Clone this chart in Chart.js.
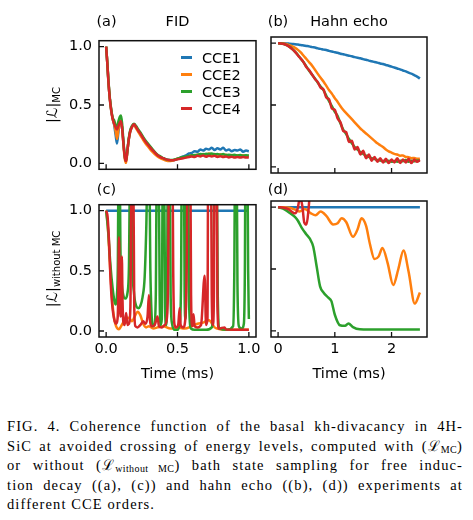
<!DOCTYPE html>
<html lang="en">
<head>
<meta charset="UTF-8">
<title>Coherence function, FID and Hahn echo</title>
<script src="https://cdn.jsdelivr.net/npm/chart.js"></script>
<style>
    * { box-sizing: border-box; margin: 0; padding: 0; }
    body {
        width: 473px;
        height: 520px;
        background: #fff;
        position: relative;
        overflow: hidden;
        font-family: "DejaVu Sans", sans-serif;
        color: #000;
    }
    canvas { position: absolute; }
    .lbl {
        position: absolute;
        font-size: 14.5px;
        line-height: 1;
        white-space: nowrap;
        transform: translate(-50%, -50%);
    }
    .ylbl { transform: translate(-50%, -50%) rotate(-90deg); }
    .ylbl sub { font-size: 10px; vertical-align: -3px; line-height: 0; }
    .key { position: absolute; height: 2.6px; width: 11px; }
    .keytext {
        position: absolute;
        font-size: 14.5px;
        line-height: 1;
        transform: translateY(-50%);
    }
    .caption {
        position: absolute;
        left: 7px;
        top: 417px;
        width: 456px;
        font-family: "Liberation Serif", "DejaVu Serif", serif;
        font-size: 14.5px;
        letter-spacing: 1.1px;
        line-height: 19.5px;
    }
    .caption div { text-align: justify; text-align-last: justify; }
    .caption div.last { text-align-last: left; }
    .caption sub { font-size: 10px; line-height: 0; vertical-align: -2px; letter-spacing: 0.4px; }
</style>
</head>
<body>
    <canvas id="fidMc" width="221" height="160" style="left:47px;top:25px"></canvas>
    <canvas id="hahnMc" width="180" height="160" style="left:259px;top:25px"></canvas>
    <canvas id="fidRaw" width="221" height="186" style="left:47px;top:189px"></canvas>
    <canvas id="hahnRaw" width="180" height="186" style="left:259px;top:189px"></canvas>

    <div class="lbl" style="left:106.5px;top:21px">(a)</div>
    <div class="lbl" style="left:177.5px;top:21px">FID</div>
    <div class="lbl" style="left:278px;top:21px">(b)</div>
    <div class="lbl" style="left:349px;top:21px">Hahn echo</div>
    <div class="lbl" style="left:106.5px;top:189px">(c)</div>
    <div class="lbl" style="left:278px;top:189px">(d)</div>
    <div class="lbl ylbl" style="left:52px;top:105px">|ℒ|<sub>MC</sub></div>
    <div class="lbl ylbl" style="left:52px;top:269px">|ℒ|<sub>without MC</sub></div>
    <div class="lbl" style="left:177.5px;top:372.5px">Time (ms)</div>
    <div class="lbl" style="left:349px;top:372.5px">Time (ms)</div>

    <div id="legend"></div>

    <div class="caption">
        <div>FIG. 4. Coherence function of the basal kh-divacancy in 4H-</div>
        <div>SiC at avoided crossing of energy levels, computed with (ℒ<sub>MC</sub>)</div>
        <div>or without (ℒ<sub>without MC</sub>) bath state sampling for free induc-</div>
        <div>tion decay ((a), (c)) and hahn echo ((b), (d)) experiments at</div>
        <div class="last">different CCE orders.</div>
    </div>

<script>
// series names and colours
const seriesNames = ['CCE1', 'CCE2', 'CCE3', 'CCE4'];
const colors = ['#1f77b4', '#ff7f0e', '#2ca02c', '#d62728'];

// ticks
const fidTicks = [0, 0.5, 1.0];
const fidTickLabels = ['0.0', '0.5', '1.0'];
const hahnTicks = [0, 1, 2];
const hahnTickLabels = ['0', '1', '2'];
const yTicks = [0, 0.5, 1.0];
const yTickLabels = ['0.0', '0.5', '1.0'];

// (a) FID with bath state sampling
const fidTime = [0, 0.008, 0.016, 0.026, 0.036, 0.046, 0.056, 0.066, 0.076, 0.086,
    0.096, 0.104, 0.112, 0.12, 0.128, 0.134, 0.14, 0.148, 0.158, 0.168,
    0.18, 0.195, 0.21, 0.225, 0.24, 0.26, 0.28, 0.30, 0.32, 0.34,
    0.36, 0.38, 0.40,
    0.42, 0.44, 0.46, 0.48, 0.50, 0.52, 0.54, 0.56, 0.58, 0.60,
    0.62, 0.64, 0.66, 0.68, 0.70, 0.72, 0.74, 0.76, 0.78, 0.80,
    0.82, 0.84, 0.86, 0.88, 0.90, 0.92, 0.94, 0.96, 0.98, 1.0];
const fidMcCce1 = [1.0, 0.86, 0.70, 0.55, 0.45, 0.38, 0.33, 0.25, 0.17, 0.27,
    0.35, 0.36, 0.30, 0.19, 0.09, 0.04, 0.03, 0.10, 0.20, 0.27,
    0.31, 0.335, 0.31, 0.28, 0.25, 0.21, 0.175, 0.145, 0.115, 0.09,
    0.07, 0.055, 0.045,
    0.035, 0.03, 0.028, 0.03, 0.04, 0.05, 0.06, 0.07, 0.085, 0.09,
    0.105, 0.10, 0.12, 0.11, 0.125, 0.12, 0.135, 0.115, 0.13, 0.12,
    0.135, 0.11, 0.12, 0.105, 0.115, 0.11, 0.12, 0.10, 0.11, 0.105];
const fidMcCce2 = [1.0, 0.86, 0.70, 0.55, 0.45, 0.38, 0.34, 0.28, 0.21, 0.29,
    0.36, 0.37, 0.30, 0.18, 0.07, 0.02, 0.005, 0.09, 0.20, 0.27,
    0.31, 0.33, 0.30, 0.27, 0.24, 0.20, 0.165, 0.135, 0.105, 0.08,
    0.06, 0.045, 0.035,
    0.025, 0.02, 0.022, 0.03, 0.04, 0.045, 0.05, 0.055, 0.06, 0.07,
    0.065, 0.075, 0.07, 0.08, 0.075, 0.085, 0.075, 0.08, 0.07, 0.078,
    0.07, 0.075, 0.068, 0.072, 0.065, 0.07, 0.065, 0.07, 0.062, 0.065];
const fidMcCce3 = [1.0, 0.87, 0.71, 0.56, 0.46, 0.39, 0.37, 0.33, 0.31, 0.36,
    0.40, 0.41, 0.34, 0.21, 0.09, 0.035, 0.025, 0.10, 0.21, 0.28,
    0.32, 0.34, 0.32, 0.29, 0.265, 0.225, 0.19, 0.16, 0.13, 0.10,
    0.075, 0.06, 0.045,
    0.035, 0.03, 0.03, 0.035, 0.04, 0.05, 0.055, 0.06, 0.065, 0.07,
    0.072, 0.075, 0.08, 0.078, 0.082, 0.08, 0.085, 0.078, 0.08, 0.075,
    0.08, 0.072, 0.075, 0.07, 0.074, 0.068, 0.072, 0.066, 0.07, 0.068];
const fidMcCce4 = [1.0, 0.86, 0.70, 0.55, 0.45, 0.38, 0.34, 0.31, 0.29, 0.32,
    0.35, 0.36, 0.30, 0.19, 0.08, 0.03, 0.02, 0.10, 0.20, 0.27,
    0.31, 0.335, 0.31, 0.28, 0.255, 0.215, 0.18, 0.15, 0.12, 0.095,
    0.07, 0.055, 0.045,
    0.035, 0.03, 0.028, 0.03, 0.035, 0.04, 0.045, 0.05, 0.055, 0.06,
    0.055, 0.065, 0.06, 0.068, 0.058, 0.065, 0.06, 0.066, 0.056, 0.062,
    0.055, 0.06, 0.052, 0.058, 0.05, 0.056, 0.05, 0.055, 0.05, 0.052];

// (b) Hahn echo with bath state sampling
const hahnTime = [0, 0.05, 0.1, 0.15, 0.2, 0.25, 0.3, 0.35, 0.4, 0.45,
    0.5, 0.55, 0.6, 0.65, 0.7, 0.75, 0.8, 0.85, 0.9, 0.95,
    1.0, 1.05, 1.1, 1.15, 1.2, 1.25, 1.3, 1.35, 1.4, 1.45,
    1.5, 1.55, 1.6, 1.65, 1.7, 1.75, 1.8, 1.85, 1.9, 1.95,
    2.0, 2.05, 2.1, 2.15, 2.2, 2.25, 2.3, 2.35, 2.4, 2.45,
    2.5];
const hahnMcCce1 = [1.000, 1.000, 0.999, 0.998, 0.996, 0.994, 0.992, 0.989, 0.986, 0.982,
    0.978, 0.974, 0.968, 0.965, 0.958, 0.954, 0.948, 0.945, 0.938, 0.933,
    0.927, 0.922, 0.915, 0.911, 0.904, 0.899, 0.894, 0.887, 0.882, 0.878,
    0.871, 0.866, 0.859, 0.854, 0.848, 0.843, 0.836, 0.831, 0.824, 0.818,
    0.810, 0.803, 0.795, 0.788, 0.779, 0.772, 0.762, 0.753, 0.741, 0.729,
    0.714];
const hahnMcCce2 = [1.0, 1.0, 0.998, 0.992, 0.984, 0.974, 0.962, 0.946, 0.925, 0.898,
    0.872, 0.845, 0.818, 0.785, 0.752, 0.72, 0.69, 0.655, 0.62, 0.59,
    0.555, 0.525, 0.49, 0.46, 0.435, 0.41, 0.385, 0.36, 0.335, 0.31,
    0.29, 0.27, 0.25, 0.23, 0.21, 0.19, 0.175, 0.16, 0.14, 0.125,
    0.115, 0.105, 0.10, 0.09, 0.092, 0.08, 0.078, 0.07, 0.072, 0.065,
    0.066];
const hahnMcCce3 = [1.0, 0.998, 0.994, 0.985, 0.972, 0.953, 0.93, 0.905, 0.875, 0.845,
    0.81, 0.775, 0.745, 0.715, 0.68, 0.65, 0.62, 0.575, 0.53, 0.49,
    0.445, 0.41, 0.35, 0.30, 0.265, 0.225, 0.19, 0.16, 0.14, 0.12,
    0.105, 0.09, 0.08, 0.07, 0.062, 0.055, 0.05, 0.047, 0.045, 0.05,
    0.04, 0.048, 0.042, 0.05, 0.045, 0.055, 0.04, 0.05, 0.045, 0.052,
    0.048];
const hahnMcCce4 = [1.0, 0.998, 0.993, 0.984, 0.97, 0.952, 0.93, 0.9, 0.875, 0.845,
    0.805, 0.78, 0.745, 0.71, 0.685, 0.64, 0.625, 0.56, 0.545, 0.47,
    0.46, 0.39, 0.36, 0.29, 0.28, 0.2, 0.21, 0.14, 0.16, 0.1,
    0.13, 0.07, 0.1, 0.05, 0.08, 0.04, 0.07, 0.035, 0.065, 0.03,
    0.06, 0.035, 0.07, 0.03, 0.06, 0.035, 0.065, 0.03, 0.06, 0.04,
    0.055];

// (c) FID without bath state sampling
const fidRawTimeCce1 = [0, 1.0];
const fidRawCce1 = [1.0, 1.0];
const fidRawTimeCce2 = [0, 0.01, 0.02, 0.03, 0.04, 0.05, 0.06, 0.07, 0.08, 0.09,
    0.10, 0.12, 0.14, 0.16, 0.18, 0.20, 0.22, 0.24, 0.26, 0.28,
    0.30, 0.33, 0.36, 0.40, 0.45, 0.50, 0.55, 0.60, 0.64, 0.68,
    0.72, 0.76, 0.80, 0.85, 0.90, 0.95, 1.0];
const fidRawCce2 = [1.0, 0.9, 0.7, 0.48, 0.3, 0.16, 0.08, 0.04, 0.02, 0.015,
    0.03, 0.07, 0.1, 0.11, 0.08, 0.12, 0.16, 0.13, 0.06, 0.03,
    0.04, 0.02, 0.03, 0.04, 0.02, 0.03, 0.02, 0.04, 0.06, 0.07,
    0.09, 0.03, 0.015, 0.01, 0.01, 0.01, 0.01];
const fidRawTimeCce3 = [0, 0.015, 0.03, 0.045, 0.058, 0.068, 0.076, 0.082, 0.087, 0.095,
    0.10, 0.108, 0.12, 0.135, 0.15, 0.16, 0.168, 0.178, 0.184, 0.195,
    0.21, 0.225, 0.24, 0.255, 0.27, 0.282, 0.29, 0.302, 0.31, 0.318,
    0.328, 0.338, 0.348, 0.355, 0.368, 0.375, 0.382, 0.39, 0.397, 0.406,
    0.413, 0.42, 0.427, 0.432, 0.446, 0.452, 0.462, 0.48, 0.5, 0.515,
    0.525, 0.53, 0.545, 0.55, 0.556, 0.56, 0.565, 0.575, 0.582, 0.595,
    0.62, 0.7, 0.74, 0.752, 0.758, 0.775, 0.782, 0.795, 0.85, 0.89,
    0.898, 0.903, 0.915, 0.92, 0.93, 0.95, 0.965, 0.972, 0.976, 0.99,
    0.995, 1.0];
const fidRawCce3 = [1.0, 0.82, 0.55, 0.36, 0.25, 0.22, 0.30, 0.55, 1.4, 1.4,
    0.7, 0.42, 0.30, 0.27, 0.32, 0.55, 1.4, 1.4, 0.6, 0.32,
    0.21, 0.19, 0.21, 0.28, 0.45, 0.9, 1.4, 1.4, 0.5, 0.15,
    0.04, 0.05, 0.3, 1.4, 1.4, 0.3, 0.05, 0.1, 1.4, 1.4,
    0.2, 0.05, 0.3, 1.4, 1.4, 0.3, 0.06, 0.01, 0.01, 0.06,
    0.4, 1.4, 1.4, 0.3, 0.1, 0.3, 1.4, 1.4, 0.2, 0.02,
    0.01, 0.01, 0.03, 0.4, 1.4, 1.4, 0.3, 0.02, 0.01, 0.04,
    0.5, 1.4, 1.4, 0.4, 0.04, 0.02, 0.06, 0.5, 1.4, 1.4,
    0.5, 0.1];
const fidRawTimeCce4 = [0, 0.01, 0.02, 0.03, 0.04, 0.05, 0.06, 0.07, 0.08, 0.086,
    0.09, 0.095, 0.10, 0.106, 0.11, 0.115, 0.12, 0.13, 0.14, 0.15,
    0.16, 0.17, 0.178, 0.19, 0.197, 0.205, 0.22, 0.24, 0.26, 0.275,
    0.29, 0.30, 0.308, 0.32, 0.34, 0.36, 0.37, 0.39, 0.41, 0.425,
    0.435, 0.44, 0.465, 0.47, 0.478, 0.49, 0.505, 0.515, 0.522, 0.54,
    0.555, 0.565, 0.57, 0.59, 0.595, 0.603, 0.612, 0.62, 0.64, 0.665,
    0.69, 0.70, 0.71, 0.715, 0.735, 0.74, 0.748, 0.755, 0.76, 0.775,
    0.78, 0.79, 0.83, 0.84, 1.0];
const fidRawCce4 = [1.0, 0.95, 0.75, 0.45, 0.25, 0.14, 0.08, 0.06, 0.1, 0.35,
    0.78, 0.35, 0.12, 0.2, 0.62, 0.25, 0.08, 0.05, 0.15, 0.05,
    0.06, 0.2, 1.4, 1.4, 0.2, 0.04, 0.03, 0.05, 0.08, 0.06,
    0.12, 0.30, 0.08, 0.04, 0.05, 0.12, 0.04, 0.03, 0.05, 0.1,
    0.5, 1.4, 1.4, 0.5, 0.06, 0.03, 0.05, 0.19, 0.05, 0.03,
    0.1, 0.6, 1.4, 1.4, 0.3, 0.04, 0.14, 0.04, 0.03, 0.05,
    0.46, 0.05, 0.1, 1.4, 1.4, 0.3, 0.05, 0.3, 1.4, 1.4,
    0.2, 0.02, 0.03, 0.012, 0.01];

// (d) Hahn echo without bath state sampling
const hahnRawTimeCce1 = [0, 2.5];
const hahnRawCce1 = [1.0, 1.0];
const hahnRawTimeCce2 = [0, 0.1, 0.2, 0.3, 0.38, 0.47, 0.58, 0.66, 0.75, 0.85,
    0.97, 1.05, 1.12, 1.2, 1.32, 1.4, 1.47, 1.55, 1.62, 1.7,
    1.77, 1.84, 1.93, 2.03, 2.12, 2.21, 2.3, 2.41, 2.5];
const hahnRawCce2 = [1.0, 1.0, 0.995, 0.98, 0.965, 0.985, 0.95, 0.935, 0.965, 0.93,
    0.86, 0.87, 0.91, 0.88, 0.76, 0.82, 0.91, 0.85, 0.70, 0.58,
    0.60, 0.67, 0.55, 0.37, 0.50, 0.65, 0.48, 0.22, 0.31];
const hahnRawTimeCce3 = [0, 0.12, 0.23, 0.3, 0.35, 0.42, 0.5, 0.56, 0.62, 0.68,
    0.74, 0.8, 0.88, 0.94, 1.0, 1.09, 1.18, 1.24, 1.32, 1.44,
    1.6, 2.0, 2.5];
const hahnRawCce3 = [1.0, 0.98, 0.945, 0.92, 0.89, 0.83, 0.78, 0.745, 0.68, 0.52,
    0.36, 0.31, 0.27, 0.24, 0.13, 0.045, 0.04, 0.06, 0.03, 0.012,
    0.01, 0.01, 0.01];
const hahnRawTimeCce4 = [0, 0.1, 0.18, 0.25, 0.3, 0.34, 0.39, 0.43, 0.46, 0.5, 0.53, 0.57, 0.6];
const hahnRawCce4 = [1.0, 0.995, 0.985, 0.96, 0.95, 0.98, 1.08, 1.0, 0.88, 0.86, 0.95, 1.2, 1.5];

Chart.defaults.font.family = '"DejaVu Sans", sans-serif';
Chart.defaults.color = '#000';

// box around the plot area plus inward tick marks
const framePlugin = {
    id: 'frame',
    afterDatasetsDraw(chart, args, opts) {
        const { ctx, chartArea: a, scales } = chart;
        ctx.save();
        ctx.strokeStyle = '#111';
        ctx.lineWidth = 1.5;
        ctx.strokeRect(a.left, a.top, a.right - a.left, a.bottom - a.top);
        ctx.lineWidth = 1.3;
        ctx.beginPath();
        opts.xTicks.forEach(v => {
            const px = scales.x.getPixelForValue(v);
            ctx.moveTo(px, a.bottom);
            ctx.lineTo(px, a.bottom - 5);
        });
        opts.yTicks.forEach(v => {
            const py = scales.y.getPixelForValue(v);
            ctx.moveTo(a.left, py);
            ctx.lineTo(a.left + 5, py);
        });
        ctx.stroke();
        ctx.restore();
    }
};

function makePanel(canvasId, times, values, xMax, xTicks, xLabels, showX, showY) {
    const span = xMax * 0.05;
    const datasets = values.map((vals, k) => ({
        label: seriesNames[k],
        data: vals.map((v, i) => ({ x: times[k][i], y: v })),
        borderColor: colors[k],
        borderWidth: 2.5,
        pointRadius: 0,
        fill: false,
        cubicInterpolationMode: 'monotone',
        clip: 0,
        order: 4 - k
    }));

    return new Chart(document.getElementById(canvasId), {
        type: 'line',
        data: { datasets },
        options: {
            responsive: false,
            animation: false,
            events: [],
            layout: { padding: 12 },
            plugins: {
                legend: { display: false },
                tooltip: { enabled: false },
                frame: { xTicks, yTicks }
            },
            scales: {
                x: {
                    type: 'linear',
                    min: -span,
                    max: xMax + span,
                    display: showX,
                    grid: { display: false, drawTicks: false },
                    border: { display: false },
                    ticks: {
                        autoSkip: false,
                        maxRotation: 0,
                        padding: 4,
                        font: { size: 14.5 },
                        callback: (v, i) => xLabels[i]
                    },
                    afterBuildTicks: s => { s.ticks = xTicks.map(v => ({ value: v })); },
                    afterFit: s => { s.height = showX ? 26 : 0; }
                },
                y: {
                    type: 'linear',
                    min: -0.05,
                    max: 1.05,
                    display: showY,
                    grid: { display: false, drawTicks: false },
                    border: { display: false },
                    ticks: {
                        autoSkip: false,
                        padding: 7,
                        font: { size: 14.5 },
                        callback: (v, i) => yTickLabels[i]
                    },
                    afterBuildTicks: s => { s.ticks = yTicks.map(v => ({ value: v })); },
                    afterFit: s => { s.width = showY ? 40 : 0; }
                }
            }
        },
        plugins: [framePlugin]
    });
}

makePanel('fidMc', [fidTime, fidTime, fidTime, fidTime],
    [fidMcCce1, fidMcCce2, fidMcCce3, fidMcCce4],
    1.0, fidTicks, fidTickLabels, false, true);
makePanel('hahnMc', [hahnTime, hahnTime, hahnTime, hahnTime],
    [hahnMcCce1, hahnMcCce2, hahnMcCce3, hahnMcCce4],
    2.5, hahnTicks, hahnTickLabels, false, false);
makePanel('fidRaw', [fidRawTimeCce1, fidRawTimeCce2, fidRawTimeCce3, fidRawTimeCce4],
    [fidRawCce1, fidRawCce2, fidRawCce3, fidRawCce4],
    1.0, fidTicks, fidTickLabels, true, true);
makePanel('hahnRaw', [hahnRawTimeCce1, hahnRawTimeCce2, hahnRawTimeCce3, hahnRawTimeCce4],
    [hahnRawCce1, hahnRawCce2, hahnRawCce3, hahnRawCce4],
    2.5, hahnTicks, hahnTickLabels, true, false);

// legend inside panel (a)
const legendRows = [57.5, 74.5, 91.5, 108.5];
const legend = document.getElementById('legend');
seriesNames.forEach((name, k) => {
    const key = document.createElement('div');
    key.className = 'key';
    key.style.left = '181px';
    key.style.top = (legendRows[k] - 1.3) + 'px';
    key.style.background = colors[k];
    legend.appendChild(key);
    const txt = document.createElement('div');
    txt.className = 'keytext';
    txt.style.left = '202px';
    txt.style.top = legendRows[k] + 'px';
    txt.textContent = name;
    legend.appendChild(txt);
});
</script>
</body>
</html>
